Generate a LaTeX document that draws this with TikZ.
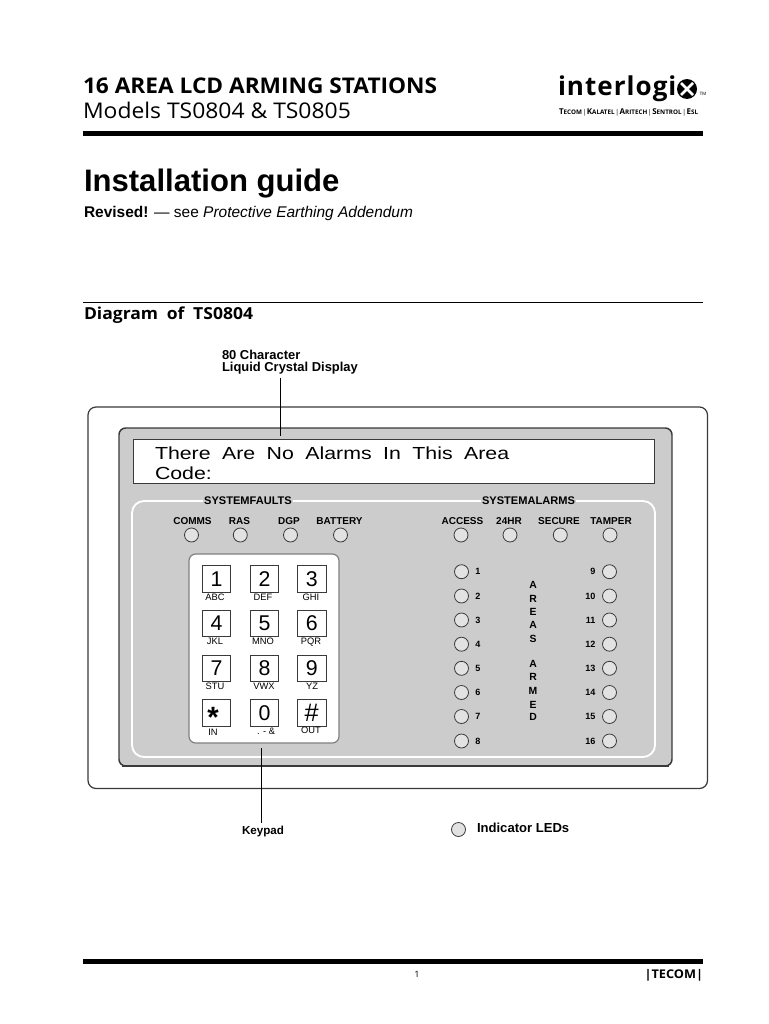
\documentclass[tikz,border=0pt]{standalone}
\usepackage{fontspec}
\setmainfont{Liberation Sans}
\newfontfamily\hdrfont[FakeStretch=1.06]{Open Sans}
\newfontfamily\titlefont[FakeStretch=1.05]{Open Sans}
\newfontfamily\logofont[LetterSpace=4]{Open Sans}
\newfontfamily\tagfont{Open Sans}
\newfontfamily\lcdfont[FakeStretch=1.22]{Liberation Sans}
\newcommand{\fsz}[1]{\fontsize{#1}{#1}\selectfont}
\definecolor{panelgrey}{HTML}{CCCCCC}
\definecolor{ledgrey}{HTML}{E2E2E2}
\definecolor{edgegrey}{HTML}{3A3A3A}
\newcommand{\smc}[2]{{\fsz{6}#1}{\fsz{4.7}#2}}
\newcommand{\tagbar}{\hspace{0.5pt}{\fsz{5}\mdseries|}\hspace{0.5pt}}
\tikzset{
  txt/.style={inner sep=0pt,outer sep=0pt,text=black},
  leftxt/.style={txt,anchor=west},
  lbl/.style={txt,font=\bfseries\fsz{7.5}},
  grouplbl/.style={txt,font=\bfseries\fsz{8.3},fill=panelgrey,inner xsep=1pt,inner ysep=1pt},
  callout/.style={txt,anchor=west,font=\bfseries\fsz{9.8}},
  sublbl/.style={txt,font=\fsz{7},text height=5pt,text depth=0pt},
  keybox/.style={draw=edgegrey,line width=0.75pt,fill=white,minimum width=21.5pt,minimum height=20pt,inner sep=0pt,font=\fsz{16}},
  led/.style={circle,draw=edgegrey,line width=0.6pt,fill=ledgrey,minimum size=10.5pt,inner sep=0pt},
  heavyrule/.style={line width=3.75pt,line cap=butt},
  lead/.style={line width=0.75pt,draw=black},
}
\begin{document}
\begin{tikzpicture}[x=0.75pt,y=-0.75pt]
\useasboundingbox (0,0) rectangle (768,1024);
\fill[white] (0,0) rectangle (768,1024);

% header
\node[leftxt,font=\titlefont\bfseries\fsz{16.2}] (title) at (83,85.5) {16 AREA LCD ARMING STATIONS};
\node[leftxt,font=\hdrfont\fsz{16.2}] (models) at (83,110) {Models TS0804 \& TS0805};
\node[leftxt,font=\logofont\bfseries\fsz{19.5}] (brand) at (558,89) {interlogi};
\fill[black] (687,89) circle (10);
\draw[white,line width=2pt] (681,83) -- (693,95) (693,83) -- (681,95);
\node[txt,font=\fsz{3.5}] (tm) at (703,94) {TM};
\node[leftxt,font=\tagfont\bfseries] (tagline) at (559,112) {\smc{T}{ECOM}\tagbar\smc{K}{ALATEL}\tagbar\smc{A}{RITECH}\tagbar\smc{S}{ENTROL}\tagbar\smc{E}{SL}};
\draw[heavyrule] (83,133.5) -- (703,133.5);

\node[leftxt,font=\bfseries\fsz{23.3}] (guide) at (84,184) {Installation guide};
\node[leftxt,font=\fsz{11.6}] (revised) at (84,213) {\textbf{Revised!} --- see \textit{Protective Earthing Addendum}};
\draw[line width=0.7pt] (83,302) -- (703,302);
\node[leftxt,font=\hdrfont\bfseries\fsz{12.4}] (diagram) at (84,315) {Diagram\hspace{0.25em} of\hspace{0.25em} TS0804};

% callout label
\node[txt,anchor=north west,align=left,font=\bfseries\fsz{9.7},outer ysep=3pt] (lcdlabel) at (222,346) {80 Character\\[-0.5pt]Liquid Crystal Display};

% casing
\draw[edgegrey,line width=0.9pt,rounded corners=6,fill=white] (88,407) rectangle (707.5,788.5);
\draw[edgegrey,line width=1.1pt,rounded corners=5,fill=panelgrey] (119,428) rectangle (672,766);
\draw[edgegrey,line width=1.3pt] (122,766) -- (669,766);
\node[draw=edgegrey,line width=0.9pt,fill=white,minimum width=390.5pt,minimum height=33.5pt,inner sep=0pt] (lcd) at (394,461.5) {};
\node[leftxt,font=\lcdfont\fsz{13.1}] (lcdone) at (155,453) {\spaceskip=8.6pt There Are No Alarms In This Area};
\node[leftxt,font=\lcdfont\fsz{13.1}] (lcdtwo) at (155,473) {Code:};
\draw[white,line width=1.4pt,rounded corners=9] (132,501) rectangle (655,757);
\node[grouplbl] (faults) at (248,500.5) {SYSTEMFAULTS};
\node[grouplbl] (alarms) at (528.5,500.5) {SYSTEMALARMS};

% top LEDs
\foreach \nm/\tx/\lx/\ledx in {comms/COMMS/192.5/191.5,ras/RAS/239.5/240.3,dgp/DGP/289/290.5,batt/BATTERY/339.5/340.5,
    access/ACCESS/462.5/461,hr/24HR/509/510,secure/SECURE/559/560.3,tamper/TAMPER/611/610}{
  \node[lbl] (\nm lbl) at (\lx,520.8) {\tx};
  \node[led] (\nm led) at (\ledx,535) {};
}

% area LEDs
\foreach \y [count=\i] in {571.7,596,620,644.2,668.3,692.5,716.5,741}{
  \node[led] (areaL\i) at (461.5,\y) {};
  \node[txt,font=\bfseries\fsz{6.8}] (numL\i) at (478,\y) {\i};
}
\foreach \y [count=\i from 9] in {571.7,596,620,644.2,668.3,692.5,716.5,741}{
  \node[led] (areaR\i) at (609.5,\y) {};
  \node[txt,anchor=east,font=\bfseries\fsz{6.8}] (numR\i) at (595.5,\y) {\i};
}
\foreach \ch/\y [count=\i] in {A/585,R/598.7,E/612,A/625,S/638.7,A/664,R/677,M/690.7,E/704.5,D/716.5}{
  \node[txt,font=\bfseries\fsz{7.8}] (arm\i) at (533,\y) {\ch};
}

% keypad
\draw[draw=gray,line width=0.9pt,rounded corners=5,fill=white] (189,554) rectangle (339,743);
\foreach \nm/\tx/\sx/\sy/\st/\kx/\ky in {
  a/1/215/597/ABC/216.5/579,b/2/263/597/DEF/264.5/579,c/3/311/597/GHI/311.7/579,
  d/4/215/641.5/JKL/216.5/623.5,e/5/263/641.5/MNO/264.5/623.5,f/6/311/641.5/PQR/311.7/623.5,
  g/7/215/686/STU/216.5/668.5,h/8/264/686/VWX/264.5/668.5,i/9/312/686/YZ/311.7/668.5}{
  \node[keybox] (key\nm) at (\kx,\ky) {\tx};
  \node[sublbl] (sub\nm) at (\sx,\sy) {\st};
}
\node[keybox] (keystar) at (216.5,713) {};
\node[txt,font=\bfseries\fsz{22}] (star) at (213,727) {\smash{*}};
\node[keybox] (keyzero) at (264.5,713) {0};
\node[keybox,font=\fsz{19}] (keyhash) at (311.7,713) {\#};
\node[sublbl] (subin) at (213,732) {IN};
\node[sublbl] (subzero) at (266,731) {. - \&};
\node[sublbl] (subout) at (311,730.5) {OUT};

% leaders and bottom labels
\coordinate (lcdtip) at (280.7,436);
\draw[lead] (lcdlabel.south -| lcdtip) -- (lcdtip);
\node[txt,font=\bfseries\fsz{8.7},outer ysep=2pt] (keypadlabel) at (263,831) {Keypad};
\coordinate (padtip) at (261,748);
\draw[lead] (padtip) -- (padtip |- keypadlabel.north);
\node[led] (legendled) at (458.5,829.5) {};
\node[callout] (legendtext) at (477,828) {Indicator LEDs};

% footer
\draw[heavyrule] (83,961.5) -- (703,961.5);
\node[txt,font=\hdrfont\fsz{6.5}] (page) at (417,974.5) {1};
\node[txt,anchor=east,font=\hdrfont\bfseries\fsz{9}] (brandfoot) at (703,975.5) {|TECOM|};
\end{tikzpicture}
\end{document}
